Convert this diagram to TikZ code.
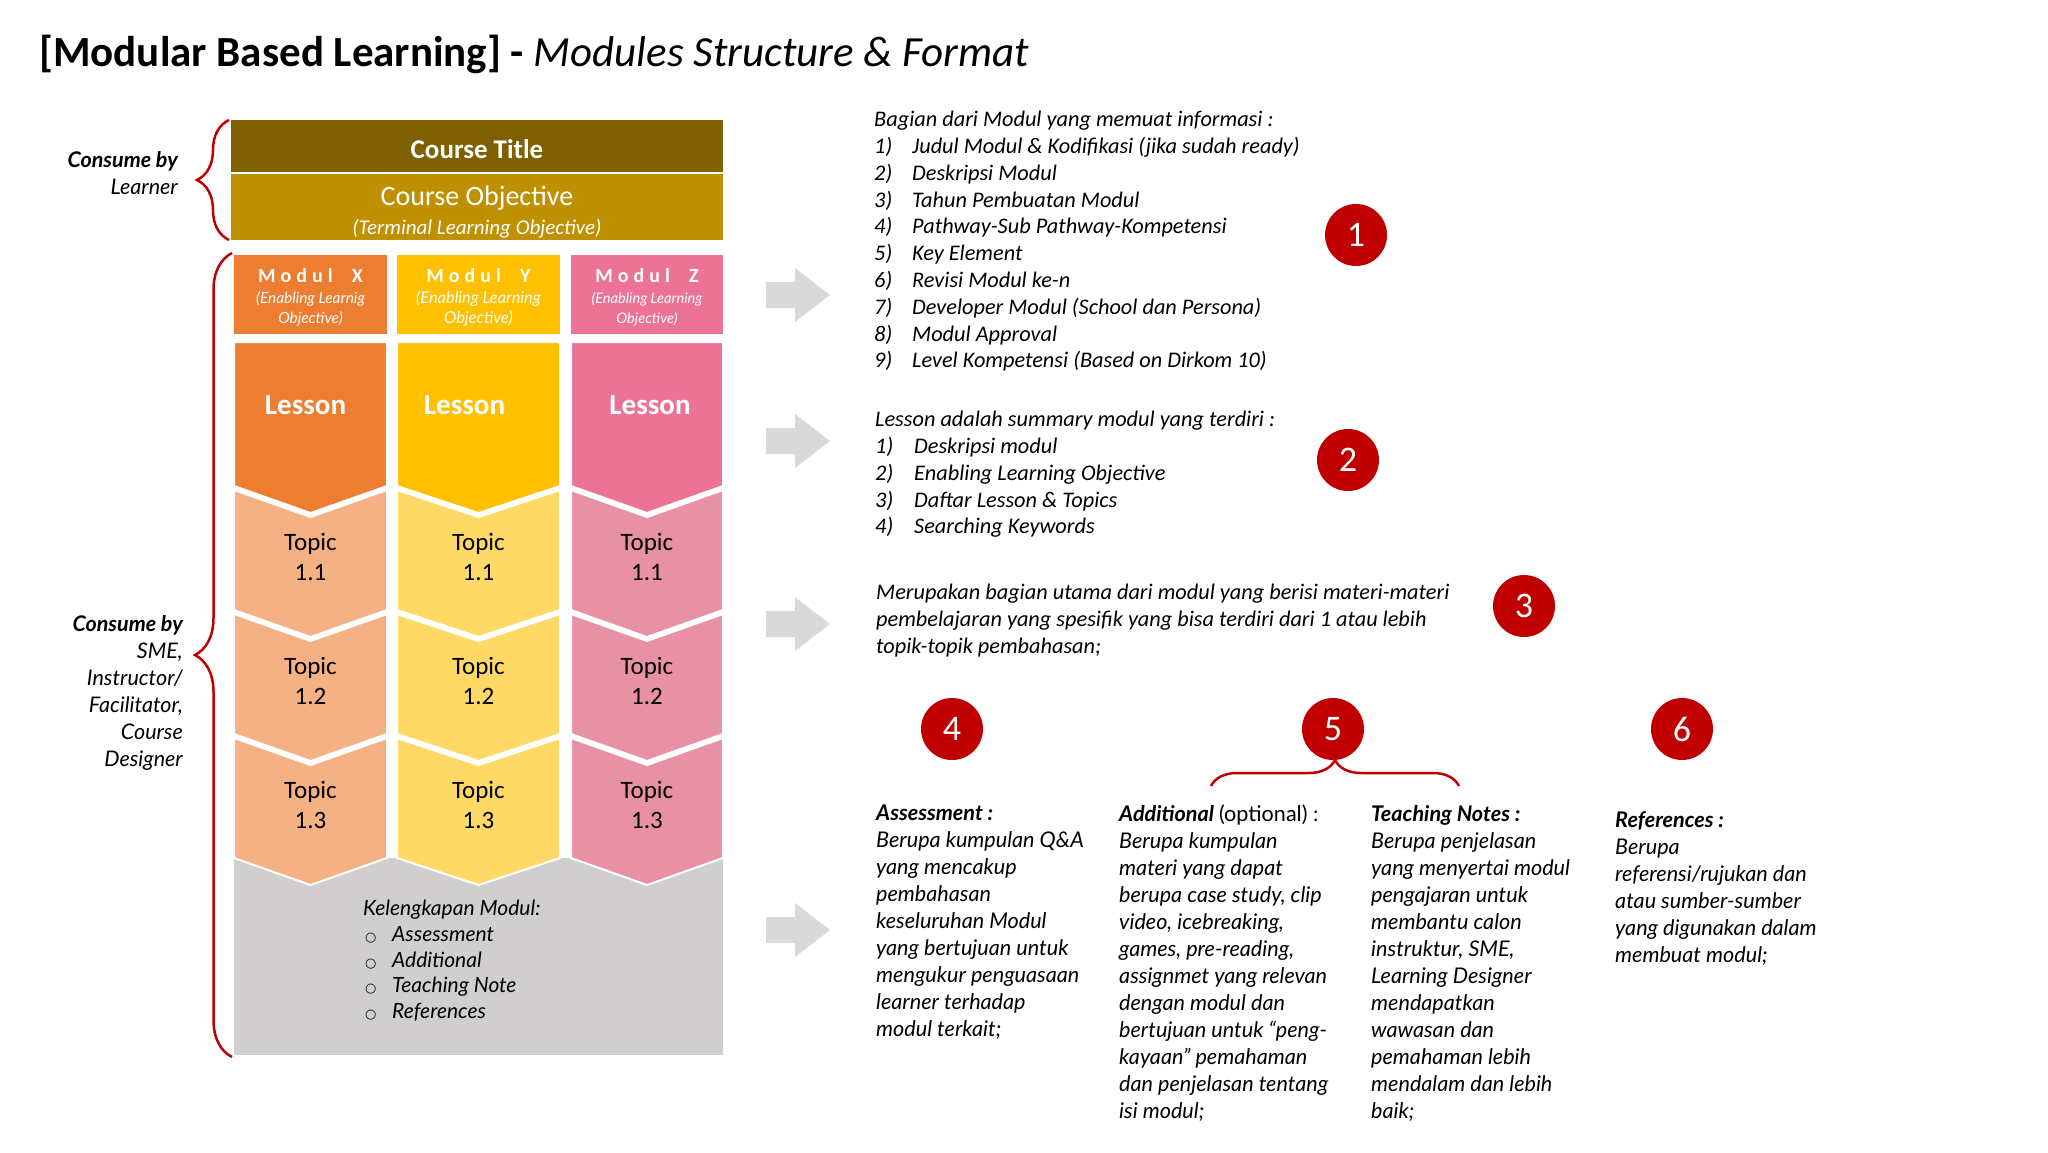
\documentclass[tikz,border=0pt]{standalone}
\usepackage{fontspec}
\setmainfont{Lato}
\newfontfamily\calibri{Carlito}
\newfontfamily\spacedfont[LetterSpace=25]{Carlito}
\newfontfamily\symfont{DejaVu Sans}
\usetikzlibrary{decorations.pathreplacing}

\definecolor{titlebrown}{HTML}{7F6000}
\definecolor{objgold}{HTML}{BF9000}
\definecolor{xdark}{HTML}{ED7D31}
\definecolor{xlight}{HTML}{F4B183}
\definecolor{ydark}{HTML}{FFC000}
\definecolor{ylight}{HTML}{FFD966}
\definecolor{zdark}{HTML}{EC7396}
\definecolor{zlight}{HTML}{E891A4}
\definecolor{kitgray}{HTML}{D0CECE}
\definecolor{arrowgray}{HTML}{D9D9D9}
\definecolor{markred}{HTML}{C00000}

\tikzset{
  redbrace/.style={draw=markred, line width=2.5pt, decorate, decoration={brace, amplitude=#1}},
  redbrace/.default=32pt,
  numdot/.style={circle, fill=markred, minimum size=62pt, inner sep=0pt, text=white, font=\calibri\fontsize{36}{36}\selectfont},
  listtext/.style={anchor=north west, inner sep=0pt, align=left, font=\calibri\itshape\fontsize{22.3}{26.8}\selectfont},
  bodytext/.style={anchor=north west, inner sep=0pt, align=left, font=\itshape\fontsize{21.6}{27}\selectfont},
  sidetext/.style={anchor=north east, inner sep=0pt, align=right, font=\itshape\fontsize{21.5}{27}\selectfont},
  chevbox/.style={draw=white, line width=2pt},
}

\begin{document}
\begin{tikzpicture}[x=1pt,y=-1pt]
	\useasboundingbox (0,0) rectangle (2048,1152);
	% title
	\node [anchor=base west, inner sep=0pt, font=\calibri\fontsize{43}{43}\selectfont] (title) at (39,66)
		{\textbf{[Modular Based Learning] -} \textit{Modules Structure \& Format}};

	% course title and objective
	\fill [titlebrown] (231,120) rectangle (723,172);
	\node [text=white, font=\calibri\bfseries\fontsize{27}{27}\selectfont] (coursetitle) at (477,149) {Course Title};
	\fill [objgold] (231,174) rectangle (723,240);
	\node [text=white, font=\calibri\fontsize{28}{28}\selectfont] (courseobj) at (477,198) {Course Objective};
	\node [text=white, font=\calibri\itshape\fontsize{21}{21}\selectfont] (terminal) at (477,229) {(Terminal Learning Objective)};

	% kelengkapan modul
	\fill [kitgray] (234,858) rectangle (723,1055);
	\node [anchor=north west, inner sep=0pt, align=left, font=\itshape\fontsize{21}{25.7}\selectfont] (kit) at (363,900)
		{Kelengkapan Modul:\\
		 \makebox[29pt][l]{\hspace{2pt}\symfont\upshape\fontsize{13}{13}\selectfont ○}Assessment\\
		 \makebox[29pt][l]{\hspace{2pt}\symfont\upshape\fontsize{13}{13}\selectfont ○}Additional\\
		 \makebox[29pt][l]{\hspace{2pt}\symfont\upshape\fontsize{13}{13}\selectfont ○}Teaching Note\\
		 \makebox[29pt][l]{\hspace{2pt}\symfont\upshape\fontsize{13}{13}\selectfont ○}References};

	% modules, lessons and topics
	\foreach \xl/\xr/\dark/\light/\name/\sub/\elo/\shift in {234/387/xdark/xlight/X/15.4/Learnig/-5, 397/560/ydark/ylight/Y/16.4/Learning/-14, 571/723/zdark/zlight/Z/14.6/Learning/3}{
		\pgfmathsetmacro\xm{(\xl+\xr)/2}
		\fill [\dark] (\xl,255) rectangle (\xr,334);
		\node [text=white, font=\spacedfont\bfseries\fontsize{20}{20}\selectfont] (modul\name) at (\xm,276) {Modul~~\name};
		\node [text=white, align=center, font=\itshape\fontsize{\sub}{20}\selectfont] (elo\name) at (\xm,309) {(Enabling \elo\\Objective)};
		\filldraw [chevbox, fill=\dark] (\xl,342) -- (\xr,342) -- (\xr,486) -- (\xm,513) -- (\xl,486) -- cycle;
		\node [text=white, font=\calibri\bfseries\fontsize{29}{29}\selectfont] (lesson\name) at (\xm+\shift,405) {Lesson};
		\foreach \t/\n in {490/1, 614/2, 738/3}{
			\filldraw [chevbox, fill=\light] (\xl,\t) -- (\xm,\t+27) -- (\xr,\t) -- (\xr,\t+120) -- (\xm,\t+147) -- (\xl,\t+120) -- cycle;
			\node [align=center, font=\calibri\fontsize{25}{30}\selectfont] (topic\name\n) at (\xm,\t+67) {Topic\\1.\n};
		}
	}

	% braces and consumers
	\draw [redbrace] (229,240) -- (229,120);
	\node [sidetext] (learner) at (178,151) {\textbf{Consume by}\\Learner};
	\draw [redbrace=37pt] (232,1057) -- (232,253);
	\node [sidetext] (sme) at (183,615) {\textbf{Consume by}\\SME,\\Instructor/\\Facilitator,\\Course\\Designer};

	% grey arrows
	\foreach \y in {295,441,624,930}
		\fill [arrowgray] (766,\y-13) -- (795,\y-13) -- (795,\y-27) -- (830,\y) -- (795,\y+27) -- (795,\y+13) -- (766,\y+13) -- cycle;

	% part 1
	\node [listtext] (info) at (874,111)
		{Bagian dari Modul yang memuat informasi :\\
		 \makebox[38pt][l]{1)}Judul Modul \& Kodifikasi (jika sudah ready)\\
		 \makebox[38pt][l]{2)}Deskripsi Modul\\
		 \makebox[38pt][l]{3)}Tahun Pembuatan Modul\\
		 \makebox[38pt][l]{4)}Pathway-Sub Pathway-Kompetensi\\
		 \makebox[38pt][l]{5)}Key Element\\
		 \makebox[38pt][l]{6)}Revisi Modul ke-n\\
		 \makebox[38pt][l]{7)}Developer Modul (School dan Persona)\\
		 \makebox[38pt][l]{8)}Modul Approval\\
		 \makebox[38pt][l]{9)}Level Kompetensi (Based on Dirkom 10)};
	\node [numdot] (num1) at (1356,235) {1};

	% part 2
	\node [listtext] (lessoninfo) at (875,411)
		{Lesson adalah summary modul yang terdiri :\\
		 \makebox[39pt][l]{1)}Deskripsi modul\\
		 \makebox[39pt][l]{2)}Enabling Learning Objective\\
		 \makebox[39pt][l]{3)}Daftar Lesson \& Topics\\
		 \makebox[39pt][l]{4)}Searching Keywords};
	\node [numdot] (num2) at (1348,460) {2};

	% part 3
	\node [listtext] (topicinfo) at (876,584)
		{Merupakan bagian utama dari modul yang berisi materi-materi\\
		 pembelajaran yang spesifik yang bisa terdiri dari 1 atau lebih\\
		 topik-topik pembahasan;};
	\node [numdot] (num3) at (1524,606) {3};

	% parts 4, 5, 6
	\node [numdot] (num4) at (952,729) {4};
	\node [numdot] (num5) at (1333,729) {5};
	\node [numdot] (num6) at (1682,729) {6};
	\draw [redbrace=26pt] (1211,786) -- (1459,786);

	\node [bodytext] (assess) at (876,805)
		{\textbf{Assessment :}\\
		 Berupa kumpulan Q\&A\\
		 yang mencakup\\
		 pembahasan\\
		 keseluruhan Modul\\
		 yang bertujuan untuk\\
		 mengukur penguasaan\\
		 learner terhadap\\
		 modul terkait;};
	\node [bodytext] (additional) at (1119,805)
		{\textbf{Additional} \textup{(optional) :}\\
		 Berupa kumpulan\\
		 materi yang dapat\\
		 berupa case study, clip\\
		 video, icebreaking,\\
		 games, pre-reading,\\
		 assignmet yang relevan\\
		 dengan modul dan\\
		 bertujuan untuk “peng-\\
		 kayaan” pemahaman\\
		 dan penjelasan tentang\\
		 isi modul;};
	\node [bodytext] (teaching) at (1371,805)
		{\textbf{Teaching Notes :}\\
		 Berupa penjelasan\\
		 yang menyertai modul\\
		 pengajaran untuk\\
		 membantu calon\\
		 instruktur, SME,\\
		 Learning Designer\\
		 mendapatkan\\
		 wawasan dan\\
		 pemahaman lebih\\
		 mendalam dan lebih\\
		 baik;};
	\node [bodytext] (refs) at (1615,811)
		{\textbf{References :}\\
		 Berupa\\
		 referensi/rujukan dan\\
		 atau sumber-sumber\\
		 yang digunakan dalam\\
		 membuat modul;};
\end{tikzpicture}
\end{document}
